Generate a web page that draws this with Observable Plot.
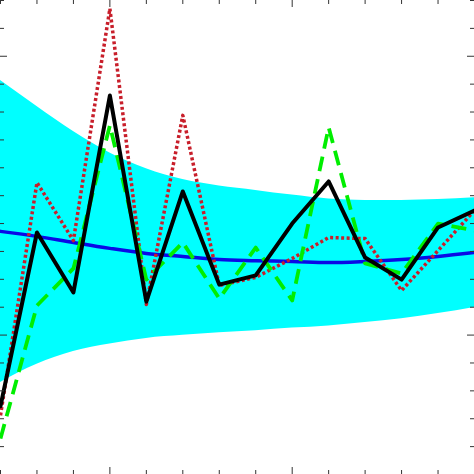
<!DOCTYPE html>
<html>
<head>
<meta charset="utf-8">
<script src="https://cdn.jsdelivr.net/npm/d3@7"></script>
<script src="https://cdn.jsdelivr.net/npm/@observablehq/plot@0.6"></script>
<style>
html, body { margin: 0; padding: 0; background: #fff; }
#chart svg { display: block; }
</style>
</head>
<body>
<div id="chart"></div>
<script>
// x positions
const xs = [2, 3, 4, 5, 6, 7, 8, 9, 10, 11, 12, 13, 14, 15];
// series
const blackSeries = [-2.55, 3.68, 1.53, 8.59, 1.20, 5.15, 1.81, 2.14, 4.00, 5.51, 2.78, 1.99, 3.86, 4.47];
const greenSeries = [-3.71, 1.06, 2.39, 7.52, 1.99, 3.32, 1.31, 3.14, 1.24, 7.45, 2.57, 2.21, 4.00, 3.75];
const redSeries   = [-2.88, 5.47, 3.39, 11.71, 1.10, 7.88, 1.78, 2.07, 2.75, 3.50, 3.46, 1.60, 3.03, 4.47];
const blueSeries  = [3.72, 3.54, 3.32, 3.11, 2.93, 2.82, 2.71, 2.67, 2.64, 2.60, 2.64, 2.71, 2.82, 2.96];
const bandUpper   = [9.13, 8.20, 7.30, 6.53, 5.97, 5.58, 5.35, 5.19, 5.02, 4.88, 4.83, 4.83, 4.86, 4.93];
const bandLower   = [-1.70, -1.05, -0.59, -0.32, -0.12, -0.01, 0.08, 0.16, 0.25, 0.33, 0.45, 0.59, 0.77, 0.99];
// ticks
const xTicks = [2, 3, 4, 5, 6, 7, 8, 9, 10, 11, 12, 13, 14, 15];
const xMajor = [5, 10, 15];
const yTicks = d3.range(-5, 13);
const yMajor = [0, 10];

const W = 474, H = 474;
const rows = xs.map((x, i) => ({
  x, black: blackSeries[i], green: greenSeries[i], red: redSeries[i],
  blue: blueSeries[i], up: bandUpper[i], lo: bandLower[i]
}));
const len = v => (v ? 7 : 4);

const chart = Plot.plot({
  width: W, height: H,
  margin: 0,
  x: {domain: [2, 15], axis: null},
  y: {domain: [-5, 12], axis: null},
  style: {background: "#fff"},
  marks: [
    Plot.areaY(rows, {x: "x", y1: "lo", y2: "up", fill: "#00ffff", curve: "monotone-x"}),
    Plot.line(rows, {x: "x", y: "blue", stroke: "#0a0ae6", strokeWidth: 3.5, curve: "monotone-x"}),
    Plot.line(rows, {x: "x", y: "red", stroke: "#c81e2a", strokeWidth: 3.5, strokeDasharray: "3,2.5", strokeLinecap: "butt"}),
    Plot.line(rows, {x: "x", y: "green", stroke: "#00ee00", strokeWidth: 3.8, strokeDasharray: "15,8", strokeLinecap: "butt"}),
    Plot.line(rows, {x: "x", y: "black", stroke: "#000", strokeWidth: 4}),
    // bottom ticks
    ...[false, true].map(m => Plot.tickX(xTicks.filter(t => xMajor.includes(t) === m), {x: d => d, stroke: "#333", strokeWidth: 1, insetTop: H - len(m)})),
    // top ticks
    ...[false, true].map(m => Plot.tickX(xTicks.filter(t => xMajor.includes(t) === m), {x: d => d, stroke: "#333", strokeWidth: 1, insetBottom: H - len(m)})),
    // left ticks
    ...[false, true].map(m => Plot.tickY(yTicks.filter(t => yMajor.includes(t) === m), {y: d => d, stroke: "#333", strokeWidth: 1, insetRight: W - len(m)})),
    // right ticks
    ...[false, true].map(m => Plot.tickY(yTicks.filter(t => yMajor.includes(t) === m), {y: d => d, stroke: "#333", strokeWidth: 1, insetLeft: W - len(m)}))
  ]
});
document.getElementById("chart").appendChild(chart);
</script>
</body>
</html>
